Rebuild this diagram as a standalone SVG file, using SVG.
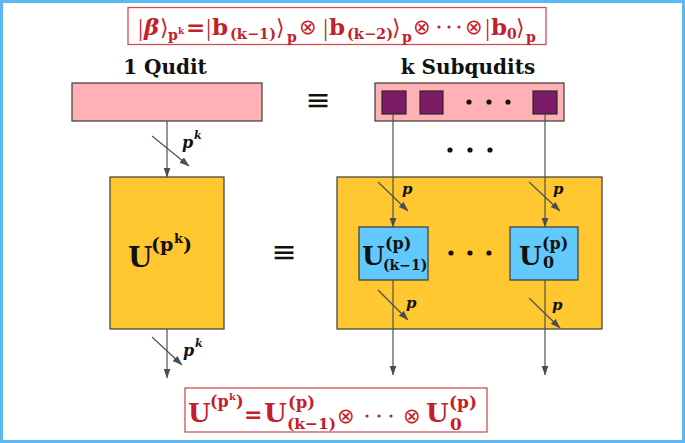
<svg xmlns="http://www.w3.org/2000/svg" width="685" height="443" viewBox="0 0 685 443">
<defs>
<marker id="ah" markerWidth="10" markerHeight="8" refX="9.5" refY="4" orient="auto" markerUnits="userSpaceOnUse"><path d="M0,0.5 L10,4 L0,7.5 z" fill="#4d4d4d"/></marker>
</defs>
<style>
.frame{fill:none;stroke:#5cb8f2;stroke-width:3}
.eqbox{fill:none;stroke:#cf4f55;stroke-width:1.3}
.eq{font-family:"DejaVu Serif","Liberation Serif",serif;font-weight:bold;fill:#c41f2c}
.pink{fill:#ffb1b6;stroke:#3a3a3a;stroke-width:1.2}
.sq{fill:#7c1b65;stroke:#2a2a2a;stroke-width:1.2}
.yel{fill:#ffc830;stroke:#3a3a3a;stroke-width:1.2}
.blu{fill:#61c9fc;stroke:#3a3a3a;stroke-width:1.2}
.wire{stroke:#505050;stroke-width:1.2;fill:none}
.lbl{font-family:"DejaVu Serif","Liberation Serif",serif;font-weight:bold;fill:#111}
.it{font-style:italic}
.sym{font-family:"DejaVu Sans",sans-serif;font-weight:normal}
.bar{font-family:"Liberation Serif",serif;font-weight:normal}
.dot{fill:#111}
.edot{fill:#c41f2c}
</style>
<rect class="frame" x="1.5" y="1.5" width="682" height="440"/>

<g id="top-equation">
<rect class="eqbox" x="128" y="7.5" width="418" height="37"/>
<text class="eq" font-size="23">
<tspan class="bar" x="138" y="36" font-size="26">|</tspan><tspan x="144" y="35" font-style="italic">β</tspan><tspan class="sym" x="160" y="35" font-size="22">⟩</tspan>
<tspan x="168" y="40" font-size="14">p</tspan><tspan x="178" y="34" font-size="9">k</tspan>
<tspan x="186" y="35">=</tspan>
<tspan class="bar" x="206" y="36" font-size="26">|</tspan><tspan x="212" y="35">b</tspan><tspan x="230" y="39" font-size="14.5">(k−1)</tspan><tspan class="sym" x="276" y="35" font-size="22">⟩</tspan><tspan x="287" y="42" font-size="14">p</tspan>
<tspan class="sym" x="299" y="34" font-size="21">⊗</tspan>
<tspan class="bar" x="323" y="36" font-size="26">|</tspan><tspan x="329" y="35">b</tspan><tspan x="347" y="39" font-size="14.5">(k−2)</tspan><tspan class="sym" x="392" y="35" font-size="22">⟩</tspan><tspan x="402" y="42" font-size="14">p</tspan>
<tspan class="sym" x="413" y="34" font-size="21">⊗</tspan>
<tspan class="sym" x="465" y="34" font-size="21">⊗</tspan>
<tspan class="bar" x="485" y="36" font-size="26">|</tspan><tspan x="491" y="35">b</tspan><tspan x="507" y="39" font-size="14">0</tspan><tspan class="sym" x="516" y="35" font-size="22">⟩</tspan><tspan x="526" y="42" font-size="14">p</tspan>
</text>
<circle class="edot" cx="439" cy="27" r="1.6"/><circle class="edot" cx="449" cy="27" r="1.6"/><circle class="edot" cx="459" cy="27" r="1.6"/>
</g>

<g id="label-1-qudit"><text class="lbl" x="165" y="74" font-size="20" text-anchor="middle">1 Qudit</text></g>
<g id="label-k-subqudits"><text class="lbl" x="468" y="74" font-size="20" text-anchor="middle">k Subqudits</text></g>

<g id="qudit"><rect class="pink" x="72" y="83" width="190" height="38"/></g>

<g id="subqudits">
<rect class="pink" x="375" y="83" width="189" height="38"/>
<rect class="sq" x="382" y="91" width="24" height="23"/>
<rect class="sq" x="420" y="91" width="23" height="23"/>
<rect class="sq" x="533" y="91" width="24" height="23"/>
<circle class="dot" cx="469" cy="102" r="2.6"/><circle class="dot" cx="489" cy="102" r="2.6"/><circle class="dot" cx="508" cy="102" r="2.6"/>
</g>

<g id="equiv-top"><text class="lbl sym" x="318" y="110" font-size="30" text-anchor="middle">≡</text></g>

<g id="gate-left">
<rect class="yel" x="110" y="177" width="114" height="152"/>
<text class="lbl"><tspan x="128" y="267" font-size="28">U</tspan><tspan x="151" y="251" font-size="19">(p</tspan><tspan x="174" y="243" font-size="13">k</tspan><tspan x="183" y="251" font-size="19">)</tspan></text>
</g>

<g id="equiv-mid"><text class="lbl sym" x="284" y="262" font-size="30" text-anchor="middle">≡</text></g>

<g id="gate-right">
<rect class="yel" x="337" y="177" width="265" height="152"/>
</g>

<g id="gate-k-1">
<rect class="blu" x="359" y="227" width="69" height="53"/>
<text class="lbl"><tspan x="362" y="265" font-size="26">U</tspan><tspan x="385" y="249" font-size="16">(p)</tspan><tspan x="383" y="270" font-size="14">(k−1)</tspan></text>
</g>

<g id="gate-0">
<rect class="blu" x="510" y="227" width="68" height="53"/>
<text class="lbl"><tspan x="519" y="265" font-size="26">U</tspan><tspan x="542" y="249" font-size="16">(p)</tspan><tspan x="543" y="268" font-size="16">0</tspan></text>
</g>

<g id="dots">
<circle class="dot" cx="450" cy="150" r="2.6"/><circle class="dot" cx="470" cy="150" r="2.6"/><circle class="dot" cx="490" cy="150" r="2.6"/>
<circle class="dot" cx="451" cy="253" r="2.6"/><circle class="dot" cx="470" cy="253" r="2.6"/><circle class="dot" cx="489" cy="253" r="2.6"/>
</g>

<g id="connectors">
<line class="wire" x1="167" y1="121" x2="167" y2="177" marker-end="url(#ah)"/>
<line class="wire" x1="152" y1="136" x2="189" y2="166" marker-end="url(#ah)"/>
<line class="wire" x1="167" y1="329" x2="167" y2="378" marker-end="url(#ah)"/>
<line class="wire" x1="152" y1="337" x2="182" y2="365" marker-end="url(#ah)"/>
<line class="wire" x1="393" y1="114" x2="393" y2="227" marker-end="url(#ah)"/>
<line class="wire" x1="545" y1="114" x2="545" y2="227" marker-end="url(#ah)"/>
<line class="wire" x1="378" y1="182" x2="408" y2="211" marker-end="url(#ah)"/>
<line class="wire" x1="529" y1="182" x2="560" y2="211" marker-end="url(#ah)"/>
<line class="wire" x1="393" y1="280" x2="393" y2="375" marker-end="url(#ah)"/>
<line class="wire" x1="545" y1="280" x2="545" y2="375" marker-end="url(#ah)"/>
<line class="wire" x1="378" y1="290" x2="408" y2="320" marker-end="url(#ah)"/>
<line class="wire" x1="529" y1="298" x2="560" y2="328" marker-end="url(#ah)"/>
</g>

<g id="wire-labels">
<text class="lbl it"><tspan x="182" y="148" font-size="16">p</tspan><tspan x="194" y="139" font-size="11">k</tspan></text>
<text class="lbl it"><tspan x="183" y="356" font-size="16">p</tspan><tspan x="195" y="347" font-size="11">k</tspan></text>
<text class="lbl it" x="402" y="194" font-size="15">p</text>
<text class="lbl it" x="406" y="308" font-size="15">p</text>
<text class="lbl it" x="553" y="194" font-size="15">p</text>
<text class="lbl it" x="552" y="310" font-size="15">p</text>
</g>

<g id="bottom-equation">
<rect class="eqbox" x="185" y="388" width="302" height="44"/>
<text class="eq">
<tspan x="188" y="422" font-size="26">U</tspan><tspan x="210" y="407" font-size="16">(p</tspan><tspan x="229" y="400" font-size="10">k</tspan><tspan x="236" y="407" font-size="16">)</tspan>
<tspan x="244" y="422" font-size="22">=</tspan>
<tspan x="264" y="422" font-size="26">U</tspan><tspan x="288" y="408" font-size="16.5">(p)</tspan><tspan x="287" y="429" font-size="15.5">(k−1)</tspan>
<tspan class="sym" x="337" y="423" font-size="21">⊗</tspan>
<tspan class="sym" x="403" y="423" font-size="21">⊗</tspan>
<tspan x="426" y="422" font-size="26">U</tspan><tspan x="449" y="408" font-size="17">(p)</tspan><tspan x="450" y="430" font-size="17">0</tspan>
</text>
<circle class="edot" cx="367" cy="416" r="1.6"/><circle class="edot" cx="379" cy="416" r="1.6"/><circle class="edot" cx="391" cy="416" r="1.6"/>
</g>
</svg>
